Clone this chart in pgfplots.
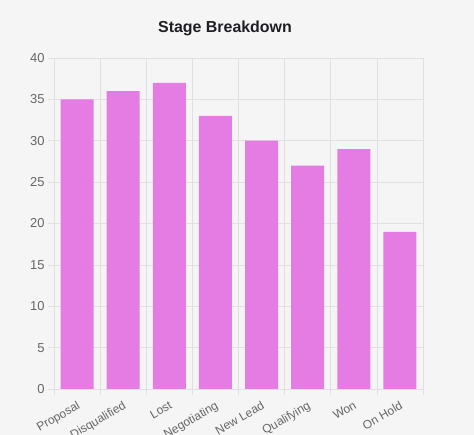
\documentclass[border=0pt]{standalone}
\usepackage{pgfplots}
\pgfplotsset{compat=1.18}
\usepackage{fontspec}
\setmainfont{Liberation Sans}
\definecolor{bg}{HTML}{F5F5F6}
\definecolor{gridc}{HTML}{E0E0E2}
\definecolor{barc}{HTML}{E47CE4}
\definecolor{tickc}{HTML}{666666}
\definecolor{titlec}{HTML}{1E1E24}
\pgfplotstableread{
x v
0 35
1 36
2 37
3 33
4 30
5 27
6 29
7 19
}\stagedata
\begin{document}
\begin{tikzpicture}[x=1bp,y=1bp]
\clip (0,0) rectangle (474,435);
\fill[bg] (0,0) rectangle (474,435);
\node[font=\bfseries\fontsize{16}{19}\selectfont, text=titlec] at (225,407) {Stage Breakdown};
\begin{axis}[
  at={(54bp,46bp)}, anchor=south west,
  scale only axis, width=369bp, height=331bp,
  xmin=-0.5, xmax=7.5, ymin=0, ymax=40,
  ytick={0,5,...,40},
  xtick=data,
  xticklabels={Proposal,Disqualified,Lost,Negotiating,New Lead,Qualifying,Won,On Hold},
  x tick label style={rotate=30, anchor=north east, font=\fontsize{12}{14}\selectfont, text=tickc, yshift=-1bp},
  y tick label style={font=\fontsize{13}{15}\selectfont, text=tickc},
  /pgf/number format/assume math mode=true,
  major x tick style={draw=none},
  minor xtick={-0.5,0.5,...,7.5},
  minor x grid style={gridc, line width=0.6bp},
  xminorgrids=true,
  ymajorgrids=true,
  major grid style={gridc, line width=0.6bp},
  minor tick length=6bp,
  major tick length=6bp,
  tick align=outside,
  minor x tick style={gridc, line width=0.6bp},
  major y tick style={gridc, line width=0.6bp},
  axis line style={draw=gridc, line width=0.6bp},
  axis x line*=bottom, axis y line*=left,
  separate axis lines,
  ybar, bar width=33bp,
  bar shift=0pt,
  clip=false,
]
\addplot[fill=barc, draw=none] table[x=x, y=v] {\stagedata};
\end{axis}
\end{tikzpicture}
\end{document}
